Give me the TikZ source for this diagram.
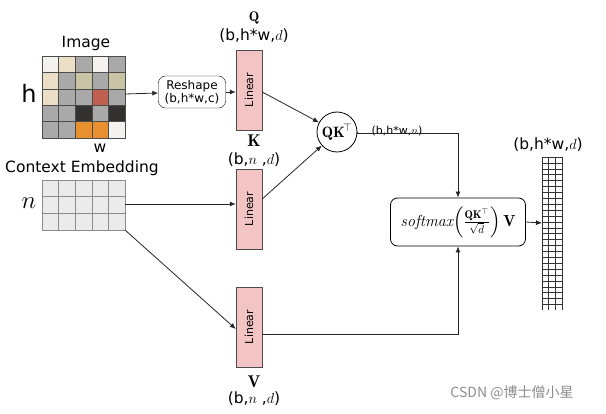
\documentclass[tikz,border=0pt]{standalone}
\usepackage{amsmath}
\usepackage{fontspec}
\newfontfamily\sfont{DejaVu Sans}
\newfontfamily\cjk{Noto Sans CJK SC}
\usetikzlibrary{arrows.meta}
\definecolor{lin}{HTML}{F2C4C4}
\definecolor{cw}{HTML}{F4F2EE}
\definecolor{cb}{HTML}{EADFC4}
\definecolor{cg}{HTML}{A9A9A9}
\definecolor{ct}{HTML}{C9C4A4}
\definecolor{cr}{HTML}{C06050}
\definecolor{cd}{HTML}{333030}
\definecolor{co}{HTML}{E89030}
\newcommand{\fs}[1]{\fontsize{#1}{#1}\selectfont}
\begin{document}
\begin{tikzpicture}[x=1pt,y=-1pt,
  lin/.style={draw=black!70,fill=lin,minimum width=26pt,minimum height=80pt,inner sep=0pt,font=\sfont\fs{11}},
  arr/.style={-{Latex[length=6pt,width=5pt]},thick,black!85},
  box/.style={draw,rounded corners=7pt,fill=white,thick},
  lab/.style={font=\sfont\fs{15.5}}]
\useasboundingbox (0,0) rectangle (606,414);
% image grid
\foreach \col [count=\i from 0] in {cw,cb,cg,cw,cg,cb,cg,ct,cg,ct,cb,cg,cg,cr,cg,cg,cg,cd,cg,cd,cg,cg,co,co,cw}{
  \pgfmathtruncatemacro{\r}{int(\i/5)}
  \pgfmathtruncatemacro{\c}{mod(\i,5)}
  \fill[\col,draw=black!70] ({42+\c*16.6},{56+\r*16.4}) rectangle +(16.6,16.4);
}
\node[lab] (imgl) at (86,43) {Image};
\node[font=\sfont\fs{24}] (hl) at (29,93) {h};
\node[lab] (wl) at (100,148) {w};
\coordinate (imgr) at (125,94);
% context grid
\foreach \r in {0,1,2}{\foreach \c in {0,...,4}{
  \fill[black!8,draw=black!45] ({42+\c*16.6},{180+\r*16.7}) rectangle +(16.6,16.7);}}
\node[lab] (cel) at (82,168) {Context Embedding};
\node[font=\fs{28}] (nl) at (29,203) {$n$};
\coordinate (ctxr) at (125,204);
\coordinate (ctxc) at (125,230);
% reshape
\node[box,thin,align=center,font=\sfont\fs{12},minimum width=67pt,minimum height=32pt,inner sep=1pt] (resh) at (192,92) {Reshape\\[1pt](b,h*w,c)};
% linears
\node[lin] (lq) at (249,90) {\rotatebox{90}{Linear}};
\node[lin] (lk) at (249,209) {\rotatebox{90}{Linear}};
\node[lin] (lv) at (249,327) {\rotatebox{90}{Linear}};
\node[font=\fs{14}] (ql) at (254,18) {$\mathbf{Q}$};
\node[lab] (qd) at (254,36) {(b,h*w,$d$)};
\node[font=\fs{17}] (kl) at (254,141) {$\mathbf{K}$};
\node[lab] (kd) at (254,160) {(b,$n$ ,$d$)};
\node[font=\fs{17}] (vl) at (254,382) {$\mathbf{V}$};
\node[lab] (vd) at (254,399) {(b,$n$ ,$d$)};
% QK
\node[draw,thick,circle,minimum size=40pt,inner sep=0pt,font=\fs{15}] (qk) at (337,132) {$\mathbf{QK}^{\!\top}$};
\node[font=\sfont\fs{11}] (qkd) at (397,131) {(b,h*w,$n$)};
% softmax
\node[box,minimum width=135pt,minimum height=48pt,font=\fs{16}] (sm) at (458,222) {$\mathit{softmax}\!\left(\frac{\mathbf{QK}^{\top}}{\sqrt{d}}\right)\mathbf{V}$};
% output
\foreach \k in {0,...,25}{\draw[black!80] (542,{157+\k*5.9}) -- (562,{157+\k*5.9});}
\foreach \k in {0,...,3}{\draw[black!80] ({542+\k*6.67},157) -- ({542+\k*6.67},310.4);}
\coordinate (outl) at (542,223);
\node[lab] (od) at (548,145) {(b,h*w,$d$)};
% arrows
\draw[arr] (imgr) -- (resh);
\draw[arr] (resh) -- (lq.west|-resh);
\draw[arr] (lq.east|-resh) -- (qk);
\draw[arr] ([yshift=10pt]lk.east) -- (qk);
\draw[arr] (ctxr) -- (lk.west|-ctxr);
\draw[arr] (ctxc) -- ([yshift=-2pt]lv.west);
\draw[arr] ([yshift=-7pt]lv.east) -| (sm.south);
\draw[arr] (qk.east) -- ++(0,1) -| (sm.north);
\draw[arr] (sm.east) -- (outl);
\node[text=black!45,font=\cjk\fs{14}] (wm) at (512,393) {CSDN @博士僧小星};
\end{tikzpicture}
\end{document}
